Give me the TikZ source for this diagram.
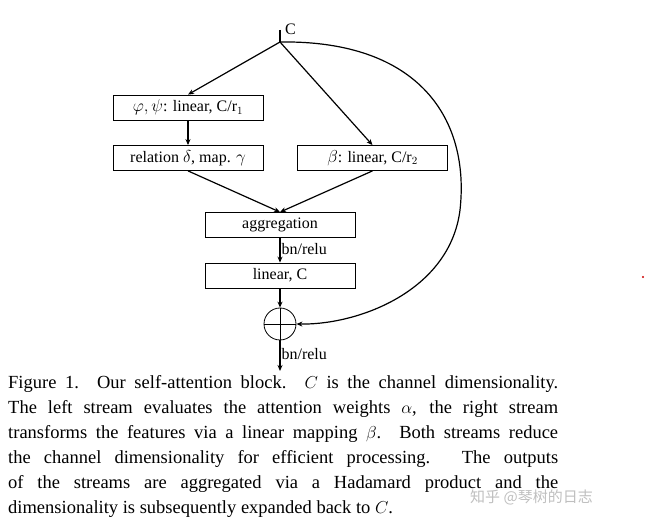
\documentclass[tikz,border=0pt]{standalone}
\usepackage{fontspec}
\setmainfont{Liberation Serif}
\newfontfamily\cjk{Noto Sans CJK SC}
\usetikzlibrary{arrows.meta}
\newcommand{\capline}[1]{\makebox[550pt][s]{#1}\\}
\begin{document}
\begin{tikzpicture}[x=1pt,y=-1pt,
  box/.style={draw,line width=0.8pt,minimum width=150pt,minimum height=25pt,inner sep=0pt,font=\fontsize{16}{18}\selectfont},
  arr/.style={line width=1.2pt,-{Stealth[length=6pt,width=5pt]}},
  lab/.style={font=\fontsize{16}{18}\selectfont,inner sep=1pt}]
\useasboundingbox (0,0) rectangle (646,526);
\coordinate (top) at (280,30);
\coordinate (c) at (280,42);
\node[lab,anchor=south west] (C) at (284,36) {C};
\node[box] (b1) at (188,107.5) {$\varphi,\psi$: linear, C/r$_1$};
\node[box] (b2) at (188,158) {relation $\delta$, map. $\gamma$};
\node[box] (b3) at (372.5,158) {$\beta$: linear, C/r$_2$};
\node[box] (agg) at (280,225) {aggregation};
\node[box] (lin) at (280,275.5) {linear, C};
\node[draw,circle,line width=0.8pt,minimum size=32pt,inner sep=0pt] (plus) at (280,324) {};
\draw[line width=0.8pt] (plus.north) -- (plus.south) (plus.west) -- (plus.east);
\coordinate (end) at (280,371);
\draw[line width=1.2pt] (top) -- (c);
\draw[arr] (c) -- (b1.north);
\draw[arr] (c) -- (b3.north);
\draw[arr] (b1) -- (b2);
\draw[arr] (b2.south) -- (agg.north);
\draw[arr] (b3.south) -- (agg.north);
\draw[arr] (agg) -- node[lab,right,pos=0.45]{bn/relu} (lin);
\draw[arr] (lin) -- (plus.north);
\draw[arr] (plus.south) -- node[lab,right,pos=0.45]{bn/relu} (end);
\draw[arr] (c) .. controls (420,40) and (470,120) .. (460,210) .. controls (450,290) and (360,325) .. (plus.east);
\node[anchor=north west,inner sep=0pt,align=left,font=\fontsize{18.5}{25}\selectfont] (cap) at (8,375)
{\capline{Figure 1. Our self-attention block. $C$ is the channel dimensionality.}
\capline{The left stream evaluates the attention weights $\alpha$, the right stream}
\capline{transforms the features via a linear mapping $\beta$. Both streams reduce}
\capline{the channel dimensionality for efficient processing. The outputs}
\capline{of the streams are aggregated via a Hadamard product and the}
dimensionality is subsequently expanded back to $C$.};
\node[anchor=west,text=gray!50,font=\cjk\fontsize{15}{17}\selectfont,inner sep=0pt] (wm) at (470,497) {知乎 @琴树的日志};
\fill[red!80!black] (643,277) circle (1.2pt);
\end{tikzpicture}
\end{document}
